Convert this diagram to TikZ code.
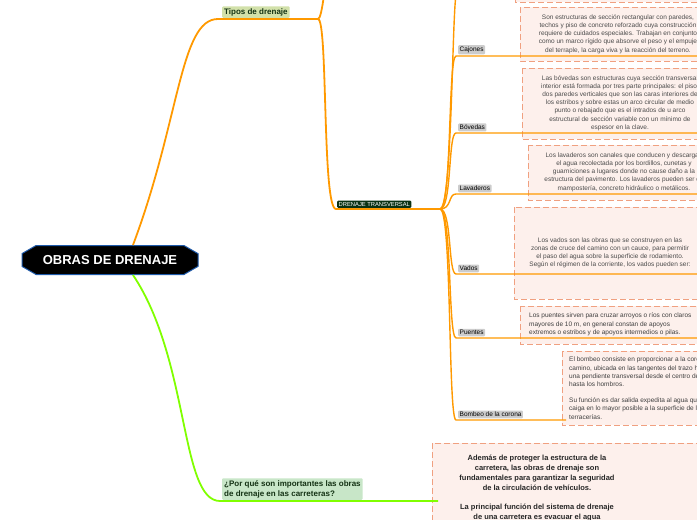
\documentclass[tikz,border=0pt]{standalone}
\usepackage{fontspec}
\setmainfont{Liberation Sans}
\usetikzlibrary{shapes.misc,shapes.geometric}
\definecolor{org}{HTML}{FF9900}
\definecolor{grn}{HTML}{80FF00}
\definecolor{boxfill}{HTML}{FDF0EC}
\definecolor{boxline}{HTML}{F0A080}
\tikzset{
 orline/.style={draw=org,line width=1.8pt},
 grline/.style={draw=grn,line width=1.8pt},
 desc/.style={draw=boxline,fill=boxfill,dashed,dash pattern=on 6pt off 3pt,line width=0.8pt},
 dtext/.style={font=\fontsize{6.5}{8.2}\selectfont,text=black!70,align=center,inner sep=0pt},
 ltext/.style={font=\fontsize{6.5}{8.2}\selectfont,text=black!75,align=left,inner sep=0pt,anchor=north west},
 item/.style={fill=black!20,rounded corners=1pt,font=\fontsize{6.5}{7}\selectfont,inner sep=1.5pt,anchor=south west},
}
\begin{document}
\begin{tikzpicture}[x=1pt,y=-1pt]
\useasboundingbox (0,0) rectangle (697,520);
\clip (0,0) rectangle (697,520);
% description boxes
\draw[desc] (515,-20) rectangle (705,2);
\draw[desc] (520,7) rectangle (705,61);
\draw[desc] (522,68) rectangle (705,139);
\draw[desc] (528,145) rectangle (705,200);
\draw[desc] (514,207) rectangle (705,299);
\draw[desc] (520,306) rectangle (705,344);
\draw[desc] (562,351) rectangle (705,425);
\draw[desc] (432,443) rectangle (705,530);
\node[dtext] at (618,34) {Son estructuras de sección rectangular con paredes,\\techos y piso de concreto reforzado cuya construcción\\requiere de cuidados especiales. Trabajan en conjunto\\como un marco rígido que absorve el peso y el empuje\\del terraple, la carga viva y la reacción del terreno.};
\node[dtext] at (620,103) {Las bóvedas son estructuras cuya sección transversal\\interior está formada por tres parte principales: el piso,\\dos paredes verticales que son las caras interiores de\\los estribos y sobre estas un arco circular de medio\\punto o rebajado que es el intrados de u arco\\estructural de sección variable con un mínimo de\\espesor en la clave.};
\node[dtext] at (624,172) {Los lavaderos son canales que conducen y descargan\\el agua recolectada por los bordillos, cunetas y\\guarniciones a lugares donde no cause daño a la\\estructura del pavimento. Los lavaderos pueden ser de\\mampostería, concreto hidráulico o metálicos.};
\node[dtext] at (610,253) {Los vados son las obras que se construyen en las\\zonas de cruce del camino con un cauce, para permitir\\el paso del agua sobre la superficie de rodamiento.\\Según el régimen de la corriente, los vados pueden ser:};
\node[ltext] at (529,313) {Los puentes sirven para cruzar arroyos o ríos con claros\\mayores de 10 m, en general constan de apoyos\\extremos o estribos y de apoyos intermedios o pilas.};
\node[ltext] at (569,357) {El bombeo consiste en proporcionar a la corona del\\camino, ubicada en las tangentes del trazo horizontal,\\una pendiente transversal desde el centro de la corona\\hasta los hombros.\\[8pt]Su función es dar salida expedita al agua que\\caiga en lo mayor posible a la superficie de las\\terracerías.};
\node[dtext,font=\bfseries\fontsize{7.5}{10}\selectfont,text=black!85] at (537,488) {Además de proteger la estructura de la\\carretera, las obras de drenaje son\\fundamentales para garantizar la seguridad\\de la circulación de vehículos.\\[9pt]La principal función del sistema de drenaje\\de una carretera es evacuar el agua};
% central node
\node[chamfered rectangle,chamfered rectangle xsep=2cm,chamfered rectangle angle=60,fill=black,draw={rgb,255:red,30;green,90;blue,170},line width=1pt,minimum width=176pt,minimum height=29pt,inner sep=0pt,font=\bfseries\fontsize{13}{14}\selectfont,text=white] (root) at (110,260) {OBRAS DE DRENAJE};
% level 1
\node[fill={rgb,255:red,210;green,225;blue,170},rounded corners=1pt,font=\bfseries\fontsize{8}{9}\selectfont,text={rgb,255:red,20;green,50;blue,20},inner sep=2pt,anchor=south west] (tipos) at (222,18) {Tipos de drenaje};
\coordinate (tA) at (218,19); \coordinate (tB) at (318,19);
\draw[orline] (133,245) .. controls (180,120) and (180,19) .. (tA) -- (tB);
\draw[orline] (tB) .. controls (320,19) and (322,10) .. (324,-5);
\node[fill={rgb,255:red,10;green,50;blue,20},rounded corners=1pt,font=\fontsize{5.8}{6}\selectfont,text=white,inner sep=1.5pt,anchor=south west] (dt) at (337,208) {DRENAJE TRANSVERSAL};
\coordinate (dA) at (336,209); \coordinate (dB) at (440,209);
\draw[orline] (tB) .. controls (328,19) and (322,209) .. (dA) -- (dB);
% items
\foreach \y/\t/\n/\xe in {56/Cajones/caj/697,133/Bóvedas/bov/697,194/Lavaderos/lav/697,274/Vados/vad/697,338/Puentes/pue/697,420/Bombeo de la corona/bom/566}{
  \node[item] (\n) at (458,\y-1.5) {\t};
  \draw[orline,line width=1.4pt] (dB) .. controls (452,209) and (448,\y) .. (456,\y) -- (\xe,\y);
}
\draw[orline,line width=1.4pt] (dB) .. controls (452,209) and (452,20) .. (456,-5);
% green branch
\node[fill={rgb,255:red,200;green,230;blue,200},rounded corners=1pt,font=\bfseries\fontsize{8}{10}\selectfont,text={rgb,255:red,20;green,50;blue,20},align=left,inner sep=2pt,anchor=south west] (why) at (222,500) {¿Por qué son importantes las obras\\de drenaje en las carreteras?};
\coordinate (gA) at (220,501); \coordinate (gB) at (438,501);
\draw[grline] (133,275) .. controls (190,360) and (180,501) .. (gA) -- (gB);
\end{tikzpicture}
\end{document}
